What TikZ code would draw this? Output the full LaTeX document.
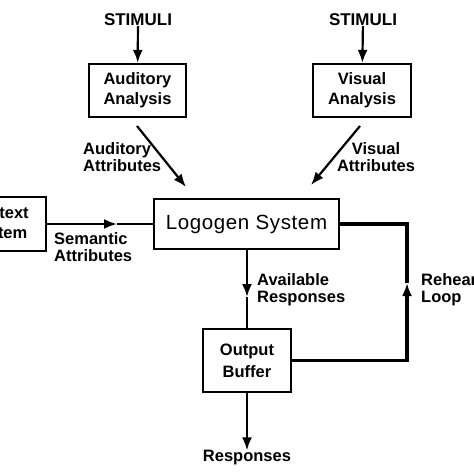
\documentclass[tikz,border=0pt]{standalone}
\usepackage{fontspec}
\setmainfont{Liberation Sans}
\usetikzlibrary{arrows.meta}
\newfontfamily\logofont[LetterSpace=3]{Liberation Sans}

\begin{document}
\begin{tikzpicture}[x=1pt,y=-1pt,
	box/.style={draw,line width=2.2pt,inner sep=0pt,align=center,font=\bfseries\fontsize{16.5}{20}\selectfont},
	lbl/.style={inner sep=0pt,font=\bfseries\fontsize{16.5}{17}\selectfont},
	conn/.style={line width=2.2pt,-{Latex[length=13pt,width=10pt]}},
	plain/.style={line width=2.2pt},
	loopline/.style={line width=3.4pt}]
	\useasboundingbox (0,0) rectangle (474,474);
	\clip (0,0) rectangle (474,474);
	\node[lbl,font=\bfseries\fontsize{17}{18}\selectfont] (stimA) at (138,20) {STIMULI};
	\node[lbl,font=\bfseries\fontsize{17}{18}\selectfont] (stimV) at (363,20) {STIMULI};
	\node[box,minimum width=97pt,minimum height=53pt] (audbox) at (137.5,90.5) {Auditory\\Analysis};
	\node[box,minimum width=98pt,minimum height=53pt] (visbox) at (362,90.5) {Visual\\Analysis};
	\node[box,minimum width=185pt,minimum height=50pt,font=\logofont\fontsize{20.5}{22}\selectfont] (logo) at (246.5,224) {Logogen System};
	\node[box,minimum width=96pt,minimum height=54pt] (ctx) at (-2,224) {Context\\System};
	\node[box,minimum width=88pt,minimum height=63pt,font=\bfseries\fontsize{16.5}{22}\selectfont] (outbuf) at (247,360.5) {Output\\Buffer};
	\node[lbl] (resp) at (247,458) {Responses};
	\node[lbl,anchor=west,align=left] (audattr) at (83,157) {Auditory\\Attributes};
	\node[lbl,align=center] (visattr) at (376,157) {Visual\\Attributes};
	\node[lbl,anchor=west,align=left] (semattr) at (54,247.5) {Semantic\\Attributes};
	\node[lbl,anchor=west,align=left] (availattr) at (257,289.5) {Available\\Responses};
	\node[lbl,anchor=west,align=left] (rehattr) at (421,290) {Rehearsal\\Loop};
	\coordinate (audout) at (137,126);
	\coordinate (audin) at (186,187);
	\coordinate (visout) at (360,126);
	\coordinate (visin) at (311,185);
	\coordinate (semtip) at (117,224);
	\coordinate (availtip) at (247,297);
	\coordinate (rehtip) at (407,283);
	\draw[conn] (stimA) -- (audbox);
	\draw[conn] (stimV) -- (visbox);
	\draw[conn] (audout) -- (audin);
	\draw[conn] (visout) -- (visin);
	\draw[conn] (ctx.east) -- (semtip);
	\draw[plain] (semtip) -- (logo.west);
	\draw[conn] (logo.south -| outbuf) -- (availtip);
	\draw[plain] (availtip) -- (outbuf.north);
	\draw[loopline,-{Latex[length=13pt,width=10pt]}] (outbuf.east) -| (rehtip);
	\draw[loopline] (rehtip) |- (logo.east);
	\draw[conn] (outbuf.south) -- (resp.north);
\end{tikzpicture}
\end{document}
